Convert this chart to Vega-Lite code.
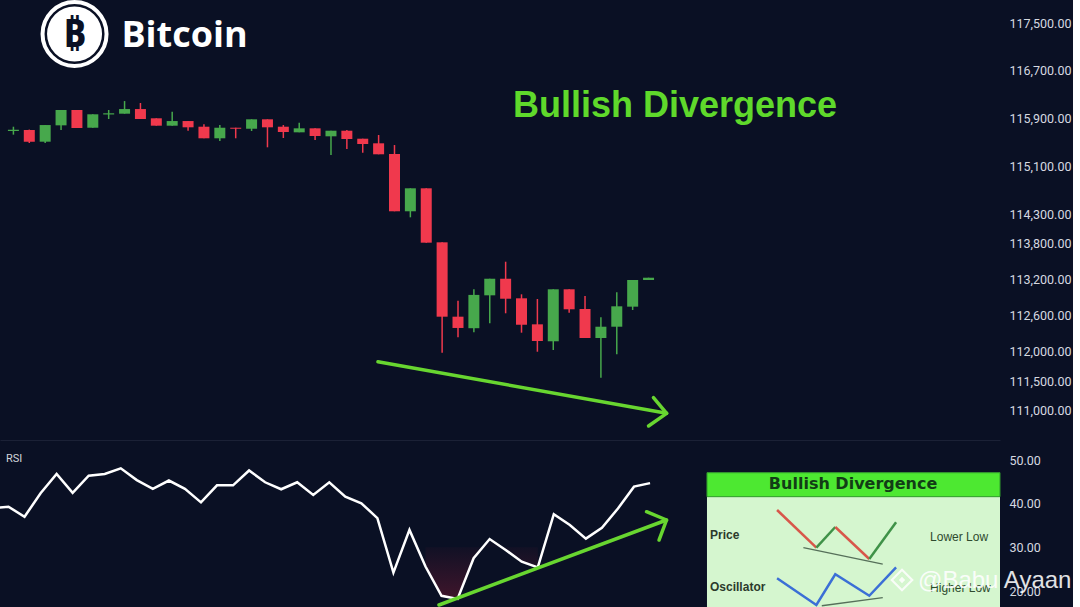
{
  "$schema": "https://vega.github.io/schema/vega-lite/v6.json",
  "padding": 0,
  "autosize": {"type": "pad"},
  "background": "#0a1024",
  "config": {"view": {"stroke": null}, "concat": {"spacing": 0}},
  "datasets": {
    "candles": [
      {"i": 1, "o": 115691, "h": 115763, "l": 115630, "c": 115711},
      {"i": 2, "o": 115708, "h": 115715, "l": 115490, "c": 115512},
      {"i": 3, "o": 115512, "h": 115791, "l": 115490, "c": 115791},
      {"i": 4, "o": 115786, "h": 116043, "l": 115708, "c": 116043},
      {"i": 5, "o": 116043, "h": 116043, "l": 115741, "c": 115741},
      {"i": 6, "o": 115746, "h": 115971, "l": 115746, "c": 115971},
      {"i": 7, "o": 115968, "h": 116043, "l": 115892, "c": 115988},
      {"i": 8, "o": 115981, "h": 116193, "l": 115981, "c": 116059},
      {"i": 9, "o": 116059, "h": 116160, "l": 115892, "c": 115892},
      {"i": 10, "o": 115904, "h": 115904, "l": 115780, "c": 115780},
      {"i": 11, "o": 115780, "h": 116014, "l": 115780, "c": 115858},
      {"i": 12, "o": 115858, "h": 115858, "l": 115696, "c": 115753},
      {"i": 13, "o": 115763, "h": 115803, "l": 115569, "c": 115569},
      {"i": 14, "o": 115569, "h": 115791, "l": 115523, "c": 115746},
      {"i": 15, "o": 115746, "h": 115746, "l": 115569, "c": 115729},
      {"i": 16, "o": 115729, "h": 115887, "l": 115691, "c": 115887},
      {"i": 17, "o": 115887, "h": 115887, "l": 115418, "c": 115753},
      {"i": 18, "o": 115763, "h": 115791, "l": 115574, "c": 115674},
      {"i": 19, "o": 115669, "h": 115830, "l": 115669, "c": 115736},
      {"i": 20, "o": 115736, "h": 115736, "l": 115540, "c": 115607},
      {"i": 21, "o": 115602, "h": 115696, "l": 115289, "c": 115696},
      {"i": 22, "o": 115696, "h": 115710, "l": 115389, "c": 115557},
      {"i": 23, "o": 115562, "h": 115562, "l": 115327, "c": 115473},
      {"i": 24, "o": 115485, "h": 115624, "l": 115301, "c": 115301},
      {"i": 25, "o": 115306, "h": 115456, "l": 114346, "c": 114346},
      {"i": 26, "o": 114346, "h": 114731, "l": 114245, "c": 114731},
      {"i": 27, "o": 114731, "h": 114731, "l": 113820, "c": 113820},
      {"i": 28, "o": 113826, "h": 113826, "l": 111977, "c": 112580},
      {"i": 29, "o": 112580, "h": 112848, "l": 112235, "c": 112391},
      {"i": 30, "o": 112387, "h": 113039, "l": 112320, "c": 112945},
      {"i": 31, "o": 112938, "h": 113216, "l": 112469, "c": 113216},
      {"i": 32, "o": 113216, "h": 113501, "l": 112637, "c": 112881},
      {"i": 33, "o": 112888, "h": 112955, "l": 112312, "c": 112445},
      {"i": 34, "o": 112452, "h": 112876, "l": 111993, "c": 112173},
      {"i": 35, "o": 112168, "h": 113039, "l": 112022, "c": 113039},
      {"i": 36, "o": 113039, "h": 113039, "l": 112647, "c": 112704},
      {"i": 37, "o": 112709, "h": 112927, "l": 112223, "c": 112223},
      {"i": 38, "o": 112223, "h": 112570, "l": 111558, "c": 112412},
      {"i": 39, "o": 112412, "h": 112989, "l": 111950, "c": 112754},
      {"i": 40, "o": 112748, "h": 113195, "l": 112692, "c": 113195},
      {"i": 41, "o": 113195, "h": 113233, "l": 113195, "c": 113233}
    ],
    "rsi": [
      {"i": 0, "r": 39.0}, {"i": 1, "r": 39.3}, {"i": 2, "r": 37.0}, {"i": 3, "r": 42.4},
      {"i": 4, "r": 46.8}, {"i": 5, "r": 42.5}, {"i": 6, "r": 46.4}, {"i": 7, "r": 46.8},
      {"i": 8, "r": 48.1}, {"i": 9, "r": 45.4}, {"i": 10, "r": 43.4}, {"i": 11, "r": 45.3},
      {"i": 12, "r": 43.4}, {"i": 13, "r": 40.3}, {"i": 14, "r": 44.2}, {"i": 15, "r": 44.2},
      {"i": 16, "r": 47.6}, {"i": 17, "r": 44.9}, {"i": 18, "r": 43.3}, {"i": 19, "r": 44.9},
      {"i": 20, "r": 42.0}, {"i": 21, "r": 44.9}, {"i": 22, "r": 41.6}, {"i": 23, "r": 40.1},
      {"i": 24, "r": 36.7}, {"i": 25, "r": 24.2}, {"i": 26, "r": 34.0}, {"i": 27, "r": 25.6},
      {"i": 28, "r": 18.9}, {"i": 29, "r": 18.2}, {"i": 30, "r": 27.5}, {"i": 31, "r": 31.9},
      {"i": 32, "r": 29.4}, {"i": 33, "r": 26.7}, {"i": 34, "r": 25.4}, {"i": 35, "r": 37.6},
      {"i": 36, "r": 35.1}, {"i": 37, "r": 32.0}, {"i": 38, "r": 34.5}, {"i": 39, "r": 38.9},
      {"i": 40, "r": 43.9}, {"i": 41, "r": 44.7}
    ],
    "arrowTop": [
      {"seg": "shaft", "k": 1, "i": 23.96, "v": 111826},
      {"seg": "shaft", "k": 2, "i": 42.14, "v": 110961},
      {"seg": "head", "k": 1, "i": 41.31, "v": 111223},
      {"seg": "head", "k": 2, "i": 42.14, "v": 110961},
      {"seg": "head", "k": 3, "i": 41.0, "v": 110749}
    ],
    "arrowBot": [
      {"seg": "shaft", "k": 1, "i": 27.84, "v": 16.8},
      {"seg": "shaft", "k": 2, "i": 42.03, "v": 36.26},
      {"seg": "head", "k": 1, "i": 40.78, "v": 38.16},
      {"seg": "head", "k": 2, "i": 42.03, "v": 36.26},
      {"seg": "head", "k": 3, "i": 41.56, "v": 31.68}
    ],
    "insetThick": [
      {"seg": "price down 1", "k": 1, "i": 48.92, "v": 38.55},
      {"seg": "price down 1", "k": 2, "i": 51.37, "v": 29.92},
      {"seg": "price up 1", "k": 1, "i": 51.37, "v": 29.92},
      {"seg": "price up 1", "k": 2, "i": 52.55, "v": 34.66},
      {"seg": "price down 2", "k": 1, "i": 52.55, "v": 34.66},
      {"seg": "price down 2", "k": 2, "i": 54.67, "v": 27.33},
      {"seg": "price up 2", "k": 1, "i": 54.67, "v": 27.33},
      {"seg": "price up 2", "k": 2, "i": 56.34, "v": 35.73},
      {"seg": "oscillator", "k": 1, "i": 48.92, "v": 22.91},
      {"seg": "oscillator", "k": 2, "i": 51.37, "v": 16.8},
      {"seg": "oscillator", "k": 3, "i": 52.55, "v": 23.83},
      {"seg": "oscillator", "k": 4, "i": 54.67, "v": 18.92},
      {"seg": "oscillator", "k": 5, "i": 56.34, "v": 25.43}
    ],
    "insetThin": [
      {"seg": "price lows", "k": 1, "i": 50.56, "v": 29.92},
      {"seg": "price lows", "k": 2, "i": 55.51, "v": 26.18},
      {"seg": "osc lows", "k": 1, "i": 51.71, "v": 16.63},
      {"seg": "osc lows", "k": 2, "i": 55.51, "v": 18.47}
    ]
  },
  "vconcat": [
    {
      "width": 1000,
      "height": 440,
      "layer": [
        {
          "data": {"name": "candles"},
          "mark": {"type": "rule", "strokeWidth": 1.5},
          "encoding": {
            "x": {"field": "i", "type": "quantitative", "title": null,
                  "scale": {"domain": [0.47, 62.82], "nice": false, "zero": false},
                  "axis": {"orient": "bottom", "domain": true, "domainColor": "#1b2136", "domainWidth": 1, "ticks": false, "labels": false, "grid": false, "title": null}},
            "y": {"field": "l", "type": "quantitative", "title": null,
                  "scale": {"domain": [110514, 117886], "nice": false, "zero": false},
                  "axis": {"orient": "right", "values": [111000, 111500, 112000, 112600, 113200, 113800, 114300, 115100, 115900, 116700, 117500],
                           "format": ",.2f", "ticks": false, "tickSize": 0, "domain": false, "grid": false, "labelPadding": 9,
                           "labelColor": "#d6d9e0", "labelFont": "Roboto", "labelFontSize": 12.5, "title": null}},
            "y2": {"field": "h"},
            "color": {"condition": {"test": "datum.c >= datum.o", "value": "#47a84c"}, "value": "#f0394d"}
          }
        },
        {
          "data": {"name": "candles"},
          "mark": {"type": "bar", "width": 11},
          "encoding": {
            "x": {"field": "i", "type": "quantitative", "title": null},
            "y": {"field": "o", "type": "quantitative", "title": null},
            "y2": {"field": "c"},
            "color": {"condition": {"test": "datum.c >= datum.o", "value": "#47a84c"}, "value": "#f0394d"}
          }
        },
        {
          "data": {"name": "arrowTop"},
          "mark": {"type": "line", "color": "#68d630", "strokeWidth": 3.5, "strokeCap": "round", "strokeJoin": "round"},
          "encoding": {
            "x": {"field": "i", "type": "quantitative", "title": null},
            "y": {"field": "v", "type": "quantitative", "title": null},
            "detail": {"field": "seg"},
            "order": {"field": "k"}
          }
        },
        {
          "data": {"values": [{}]},
          "mark": {"type": "text", "text": "Bullish Divergence", "align": "left", "baseline": "alphabetic", "font": "Liberation Sans", "fontWeight": "bold", "fontSize": 36, "color": "#5fd92b"},
          "encoding": {"x": {"datum": 32.46, "type": "quantitative"}, "y": {"datum": 115925, "type": "quantitative"}}
        },
        {
          "data": {"values": [{}]},
          "mark": {"type": "text", "text": "Bitcoin", "align": "left", "baseline": "alphabetic", "font": "Open Sans", "fontWeight": "bold", "fontSize": 36, "color": "#ffffff"},
          "encoding": {"x": {"datum": 7.8, "type": "quantitative"}, "y": {"datum": 117098, "type": "quantitative"}}
        },
        {
          "data": {"values": [{}]},
          "mark": {"type": "point", "shape": "circle", "size": 4096, "filled": false, "color": "#ffffff", "strokeWidth": 4, "opacity": 1, "clip": true},
          "encoding": {"x": {"datum": 4.85, "type": "quantitative"}, "y": {"datum": 117316, "type": "quantitative"}}
        },
        {
          "data": {"values": [{}]},
          "mark": {"type": "point", "shape": "circle", "size": 3025, "filled": true, "color": "#ffffff", "opacity": 1, "strokeWidth": 0},
          "encoding": {"x": {"datum": 4.85, "type": "quantitative"}, "y": {"datum": 117316, "type": "quantitative"}}
        },
        {
          "data": {"values": [{}]},
          "mark": {"type": "text", "text": "₿", "align": "center", "baseline": "middle", "font": "Noto Sans", "fontWeight": "bold", "fontSize": 40, "color": "#0a1024", "dy": 1},
          "encoding": {"x": {"datum": 4.85, "type": "quantitative"}, "y": {"datum": 117316, "type": "quantitative"}}
        }
      ]
    },
    {
      "width": 1000,
      "height": 167,
      "layer": [
        {
          "data": {"name": "rsi"},
          "transform": [{"filter": "datum.i >= 27 && datum.i <= 34"}],
          "mark": {"type": "area", "fill": {"gradient": "linear", "x1": 0, "y1": 0, "x2": 0, "y2": 1,
                   "stops": [{"offset": 0, "color": "rgba(150,30,55,0)"}, {"offset": 1, "color": "rgba(150,30,55,0.38)"}]}},
          "encoding": {
            "x": {"field": "i", "type": "quantitative", "title": null,
                  "scale": {"domain": [0.47, 62.82], "nice": false, "zero": false},
                  "axis": null},
            "y": {"field": "r", "type": "quantitative", "title": null,
                  "scale": {"domain": [16.34, 54.58], "nice": false, "zero": false},
                  "axis": {"orient": "right", "values": [20, 30, 40, 50], "format": ".2f", "ticks": false, "tickSize": 0, "domain": false, "grid": false,
                           "labelPadding": 9, "labelColor": "#d6d9e0", "labelFont": "Roboto", "labelFontSize": 12.5, "title": null}},
            "y2": {"datum": 30}
          }
        },
        {
          "data": {"name": "rsi"},
          "mark": {"type": "line", "color": "#ffffff", "strokeWidth": 2.5, "strokeJoin": "miter", "clip": true},
          "encoding": {
            "x": {"field": "i", "type": "quantitative", "title": null},
            "y": {"field": "r", "type": "quantitative", "title": null}
          }
        },
        {
          "data": {"name": "arrowBot"},
          "mark": {"type": "line", "color": "#68d630", "strokeWidth": 3.5, "strokeCap": "round", "strokeJoin": "round", "clip": true},
          "encoding": {
            "x": {"field": "i", "type": "quantitative", "title": null},
            "y": {"field": "v", "type": "quantitative", "title": null},
            "detail": {"field": "seg"},
            "order": {"field": "k"}
          }
        },
        {
          "data": {"values": [{}]},
          "mark": {"type": "text", "text": "RSI", "align": "left", "baseline": "middle", "font": "Roboto", "fontSize": 11, "color": "#d1d4dc"},
          "encoding": {"x": {"datum": 0.84, "type": "quantitative"}, "y": {"datum": 50.23, "type": "quantitative"}}
        },
        {
          "data": {"values": [{}]},
          "mark": {"type": "rect", "color": "#d5f6cf", "clip": true},
          "encoding": {"x": {"datum": 44.55, "type": "quantitative"}, "x2": {"datum": 62.82}, "y": {"datum": 47.09, "type": "quantitative"}, "y2": {"datum": 16.34}}
        },
        {
          "data": {"values": [{}]},
          "mark": {"type": "rect", "color": "#4de831", "stroke": "#2f9a2a", "strokeWidth": 1},
          "encoding": {"x": {"datum": 44.55, "type": "quantitative"}, "x2": {"datum": 62.82}, "y": {"datum": 47.09, "type": "quantitative"}, "y2": {"datum": 41.6}}
        },
        {
          "data": {"values": [{}]},
          "mark": {"type": "text", "text": "Bullish Divergence", "align": "center", "baseline": "middle", "font": "DejaVu Sans", "fontWeight": "bold", "fontSize": 16, "color": "#123d16"},
          "encoding": {"x": {"datum": 53.66, "type": "quantitative"}, "y": {"datum": 44.5, "type": "quantitative"}}
        },
        {
          "data": {"values": [{}]},
          "mark": {"type": "text", "text": "Price", "align": "left", "baseline": "middle", "font": "Liberation Sans", "fontWeight": "bold", "fontSize": 12, "color": "#2c3a2c"},
          "encoding": {"x": {"datum": 44.74, "type": "quantitative"}, "y": {"datum": 32.83, "type": "quantitative"}}
        },
        {
          "data": {"values": [{}]},
          "mark": {"type": "text", "text": "Oscillator", "align": "left", "baseline": "middle", "font": "Liberation Sans", "fontWeight": "bold", "fontSize": 12, "color": "#2c3a2c"},
          "encoding": {"x": {"datum": 44.74, "type": "quantitative"}, "y": {"datum": 20.92, "type": "quantitative"}}
        },
        {
          "data": {"values": [{}]},
          "mark": {"type": "text", "text": "Lower Low", "align": "left", "baseline": "middle", "font": "Liberation Sans", "fontSize": 12, "color": "#2e4a2e"},
          "encoding": {"x": {"datum": 58.46, "type": "quantitative"}, "y": {"datum": 32.37, "type": "quantitative"}}
        },
        {
          "data": {"values": [{}]},
          "mark": {"type": "text", "text": "Higher Low", "align": "left", "baseline": "middle", "font": "Liberation Sans", "fontSize": 12, "color": "#2e4a2e"},
          "encoding": {"x": {"datum": 58.46, "type": "quantitative"}, "y": {"datum": 20.69, "type": "quantitative"}}
        },
        {
          "data": {"name": "insetThin"},
          "mark": {"type": "line", "color": "#56705a", "strokeWidth": 1.3, "clip": true},
          "encoding": {
            "x": {"field": "i", "type": "quantitative", "title": null},
            "y": {"field": "v", "type": "quantitative", "title": null},
            "detail": {"field": "seg"},
            "order": {"field": "k"}
          }
        },
        {
          "data": {"name": "insetThick"},
          "mark": {"type": "line", "strokeWidth": 2.5, "clip": true},
          "encoding": {
            "x": {"field": "i", "type": "quantitative", "title": null},
            "y": {"field": "v", "type": "quantitative", "title": null},
            "color": {"field": "seg", "type": "nominal", "legend": null,
                      "scale": {"domain": ["price down 1", "price up 1", "price down 2", "price up 2", "oscillator"],
                                "range": ["#d8574a", "#3f9248", "#d8574a", "#3f9248", "#3b6fd6"]}},
            "order": {"field": "k"}
          }
        },
        {
          "data": {"values": [{}]},
          "mark": {"type": "point", "shape": "diamond", "size": 420, "filled": false, "color": "#ffffff", "strokeWidth": 2.2, "opacity": 0.85},
          "encoding": {"x": {"datum": 56.71, "type": "quantitative"}, "y": {"datum": 22.52, "type": "quantitative"}}
        },
        {
          "data": {"values": [{}]},
          "mark": {"type": "point", "shape": "diamond", "size": 40, "filled": true, "color": "#ffffff", "opacity": 0.85},
          "encoding": {"x": {"datum": 56.71, "type": "quantitative"}, "y": {"datum": 22.52, "type": "quantitative"}}
        },
        {
          "data": {"values": [{}]},
          "mark": {"type": "text", "text": "@Babu Ayaan", "align": "left", "baseline": "middle", "font": "Liberation Sans", "fontSize": 24, "color": "#ffffff", "opacity": 0.88},
          "encoding": {"x": {"datum": 57.71, "type": "quantitative"}, "y": {"datum": 22.29, "type": "quantitative"}}
        }
      ]
    }
  ]
}
